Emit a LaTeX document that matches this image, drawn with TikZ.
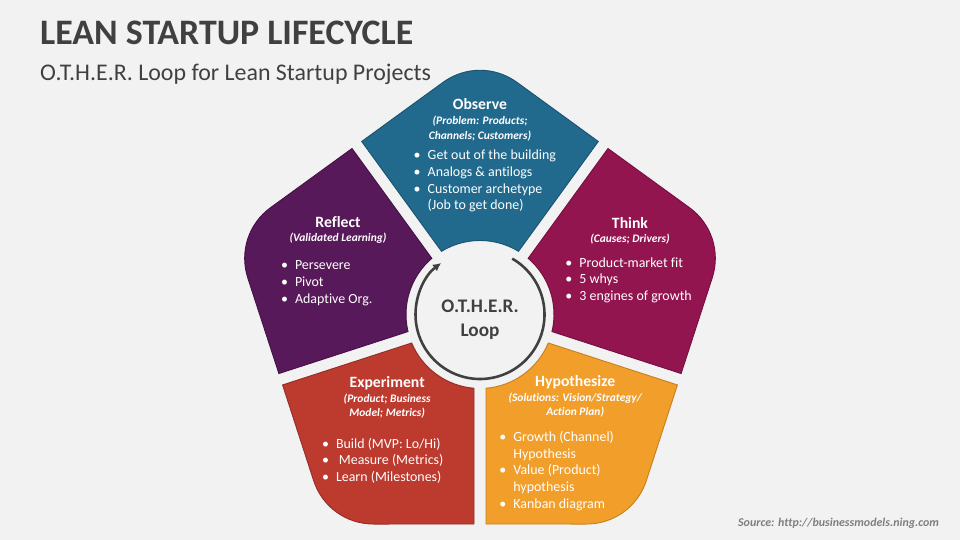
\documentclass[tikz,border=0pt]{standalone}
\usepackage{fontspec}
\setmainfont{Carlito}[Ligatures=NoCommon]
\usetikzlibrary{calc,arrows.meta}

\definecolor{bgcol}{HTML}{F2F2F2}
\definecolor{ink}{HTML}{404040}
\definecolor{srcgray}{HTML}{7F7F7F}
\definecolor{obsfill}{HTML}{216A8D}
\definecolor{obsline}{HTML}{1A5472}
\definecolor{reffill}{HTML}{58195A}
\definecolor{refline}{HTML}{451345}
\definecolor{expfill}{HTML}{BD3A2F}
\definecolor{expline}{HTML}{962E26}
\definecolor{hypfill}{HTML}{F19E2B}
\definecolor{hypline}{HTML}{C88120}
\definecolor{thkfill}{HTML}{921550}
\definecolor{thkline}{HTML}{751040}

\newcommand{\itemtab}[1]{\begin{tabular}[t]{@{}l@{\hspace{6pt}}l@{}}#1\end{tabular}}
\newcommand{\linetab}[1]{\begin{tabular}[t]{@{}c@{}}#1\end{tabular}}

\tikzset{>={Latex[length=7pt,width=7pt]}}
\tikzset{
  segtitle/.style={anchor=base, inner sep=0pt, text=white,
    font=\fontsize{13.4}{16}\selectfont\bfseries},
  segnote/.style={anchor=base, inner sep=0pt, text=white,
    font=\fontsize{9.8}{12.2}\selectfont\bfseries\itshape},
  seglist/.style={anchor=base west, inner sep=0pt, text=white,
    font=\fontsize{11.9}{14.2}\selectfont},
  segment/.style={line width=0.8pt}
}

\begin{document}
\begin{tikzpicture}[x=0.03cm,y=0.03cm]

  % Background
  \fill[bgcol] (-480,-225.5) rectangle (480,314.5);
  \useasboundingbox (-480,-225.5) rectangle (480,314.5);

  % Headings
  \node[anchor=base west, inner sep=0pt, text=ink,
    font=\fontsize{30.6}{36}\selectfont\bfseries] (title) at (-440,269.5)
    {LEAN STARTUP LIFECYCLE};
  \node[anchor=base west, inner sep=0pt, text=ink,
    font=\fontsize{20.4}{24}\selectfont] (subtitle) at (-440,233.5)
    {O.T.H.E.R. Loop for Lean Startup Projects};

  % Pentagon segments
  \foreach \a/\fc/\dc in {90/obsfill/obsline, 162/reffill/refline,
      234/expfill/expline, 306/hypfill/hypline, 18/thkfill/thkline}{
    \path[segment, fill=\fc, draw=\dc]
      (\a+31.35:74)
      -- ($(\a+36:209.5)+(\a-54:6)$)
      -- ($(\a:259)!0.15!(\a+72:259)$)
      .. controls ($(\a:259)!0.06!(\a+72:259)$)
      and ($(\a:259)!0.06!(\a-72:259)$) .. ($(\a:259)!0.15!(\a-72:259)$)
      -- ($(\a-36:209.5)+(\a+54:6)$)
      -- (\a-31.35:74)
      arc[start angle=\a-31.35, end angle=\a+31.35, radius=74] -- cycle;
  }

  % Loop arrow
  \draw[ink, line width=2.2pt, ->] (60:64.5)
    arc[start angle=60, end angle=-233, radius=64.5];
  \node[anchor=base, inner sep=0pt, text=ink,
    font=\fontsize{16.4}{20.7}\selectfont\bfseries] (loop) at (0,2.2)
    {\linetab{O.T.H.E.R.\\Loop}};

  % Observe
  \node[segtitle] (obsT) at (0,204.5) {Observe};
  \node[segnote] (obsN) at ($(obsT.base)+(0,-15)$)
    {\linetab{(Problem: Products;\\Channels; Customers)}};
  \node[seglist] (obsL) at (-66.5,154.5)
    {\itemtab{\textbullet & Get out of the building\\
      \textbullet & Analogs \& antilogs\\
      \textbullet & Customer archetype\\
      & (Job to get done)}};

  % Reflect
  \node[segtitle] (refT) at (-142,86.8) {Reflect};
  \node[segnote] (refN) at ($(refT.base)+(0,-14)$)
    {(Validated Learning)};
  \node[seglist] (refL) at (-199.2,44.5)
    {\itemtab{\textbullet & Persevere\\
      \textbullet & Pivot\\
      \textbullet & Adaptive Org.}};

  % Think
  \node[segtitle] (thkT) at (150,86.2) {Think};
  \node[segnote] (thkN) at ($(thkT.base)+(0,-14.4)$)
    {(Causes; Drivers)};
  \node[seglist] (thkL) at (85.2,47.2)
    {\itemtab{\textbullet & Product-market fit\\
      \textbullet & 5 whys\\
      \textbullet & 3 engines of growth}};

  % Experiment
  \node[segtitle] (expT) at (-92.8,-73.2) {Experiment};
  \node[segnote] (expN) at ($(expT.base)+(0,-15)$)
    {\linetab{(Product; Business\\Model; Metrics)}};
  \node[seglist] (expL) at (-158.2,-133.8)
    {\itemtab{\textbullet & Build (MVP: Lo/Hi)\\
      \textbullet & \hspace{2.5pt}Measure (Metrics)\\
      \textbullet & Learn (Milestones)}};

  % Hypothesize
  \node[segtitle] (hypT) at (95.2,-72.2) {Hypothesize};
  \node[segnote] (hypN) at ($(hypT.base)+(0,-15)$)
    {\linetab{(Solutions: Vision/Strategy/\\Action Plan)}};
  \node[seglist] (hypL) at (19.2,-127.2)
    {\itemtab{\textbullet & Growth (Channel)\\
      & Hypothesis\\
      \textbullet & Value (Product)\\
      & hypothesis\\
      \textbullet & Kanban diagram}};

  % Source
  \node[anchor=base east, inner sep=0pt, text=srcgray,
    font=\fontsize{10.2}{12}\selectfont\bfseries\itshape] (source) at (459.3,-211.5)
    {Source: http://businessmodels.ning.com};

\end{tikzpicture}
\end{document}
